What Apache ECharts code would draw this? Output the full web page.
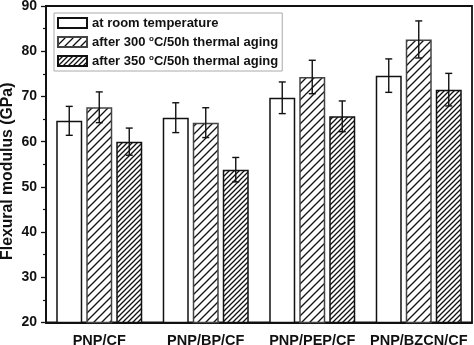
<!DOCTYPE html>
<html><head><meta charset="utf-8">
<script src="https://cdn.jsdelivr.net/npm/echarts@6/dist/echarts.min.js"></script>
<style>html,body{margin:0;padding:0;background:#fff}#c{width:474px;height:345px}</style>
</head><body><div id="c"></div>
<script>
const categories = ['PNP/CF', 'PNP/BP/CF', 'PNP/PEP/CF', 'PNP/BZCN/CF'];
const seriesNames = ['at room temperature', 'after 300 °C/50h thermal aging', 'after 350 °C/50h thermal aging'];
const roomTemp = [64.6, 65.3, 69.7, 74.6];
const roomTempErr = [3.2, 3.3, 3.5, 3.7];
const aged300 = [67.6, 64.2, 74.3, 82.6];
const aged300Err = [3.4, 3.3, 3.7, 4.1];
const aged350 = [60.0, 53.8, 65.6, 71.5];
const aged350Err = [3.0, 2.7, 3.4, 3.6];
const yTicks = [20, 30, 40, 50, 60, 70, 80, 90];

function hatch(s, lw) {
  const c = document.createElement('canvas');
  c.width = s; c.height = s;
  const ctx = c.getContext('2d');
  ctx.fillStyle = '#fff'; ctx.fillRect(0, 0, s, s);
  ctx.strokeStyle = '#111'; ctx.lineWidth = lw;
  ctx.beginPath();
  ctx.moveTo(0, s); ctx.lineTo(s, 0);
  ctx.moveTo(-2, 2); ctx.lineTo(2, -2);
  ctx.moveTo(s - 2, s + 2); ctx.lineTo(s + 2, s - 2);
  ctx.stroke();
  return c;
}

const values = [roomTemp, aged300, aged350];
const errs = [roomTempErr, aged300Err, aged350Err];
const fills = ['#fff', {image: hatch(8, 1.3), repeat: 'repeat'}, {image: hatch(5, 1.3), repeat: 'repeat'}];
const borders = ['#111', '#444', '#111'];
const BAR_W = 26, OFFSETS = [-30, 0, 30];

const series = [];
values.forEach((v, i) => {
  series.push({
    name: seriesNames[i], type: 'bar', data: v, barWidth: BAR_W, barGap: '15.4%',
    itemStyle: {color: fills[i], borderColor: borders[i], borderWidth: 1.5},
    emphasis: {disabled: true}
  });
});
values.forEach((v, i) => {
  series.push({
    type: 'custom', silent: true, z: 5,
    data: v.map((val, k) => [k, val, errs[i][k]]),
    encode: {x: 0, y: 1},
    renderItem: function (params, api) {
      const k = api.value(0), val = api.value(1), e = api.value(2);
      const top = api.coord([k, val + e]);
      const bot = api.coord([k, val - e]);
      const x = top[0] + OFFSETS[i];
      const cap = 3.5;
      const st = {stroke: '#111', lineWidth: 1.4};
      return {type: 'group', children: [
        {type: 'line', shape: {x1: x, y1: top[1], x2: x, y2: bot[1]}, style: st},
        {type: 'line', shape: {x1: x - cap, y1: top[1], x2: x + cap, y2: top[1]}, style: st},
        {type: 'line', shape: {x1: x - cap, y1: bot[1], x2: x + cap, y2: bot[1]}, style: st}
      ]};
    }
  });
});

const chart = echarts.init(document.getElementById('c'), null, {renderer: 'canvas'});
const FONT = 'Liberation Sans, Arial, sans-serif';
chart.setOption({
  animation: false,
  textStyle: {fontFamily: FONT},
  grid: {left: 46, right: 2, top: 6, bottom: 22.5, containLabel: false, outerBoundsMode: 'none',
    show: true, borderColor: '#111', borderWidth: 1.8, backgroundColor: 'transparent'},
  legend: {
    left: 54, top: 13, orient: 'vertical', itemWidth: 29, itemHeight: 10, itemGap: 5, icon: 'rect',
    padding: [3, 4, 3, 3], borderColor: '#aaa', borderWidth: 1,
    data: seriesNames,
    formatter: function (n) { return n.replace(' °C', ' {sup|o}C'); },
    textStyle: {fontSize: 13, fontWeight: 'bold', color: '#111', lineHeight: 14, fontFamily: FONT,
      rich: {sup: {fontSize: 8, fontWeight: 'bold', color: '#111', verticalAlign: 'top', lineHeight: 14, padding: [0, 0, 6, 0], fontFamily: FONT}}},
    selectedMode: false
  },
  xAxis: {
    type: 'category', data: categories,
    axisLine: {lineStyle: {color: '#111', width: 1.8}},
    axisTick: {alignWithLabel: true, length: 5, lineStyle: {color: '#111', width: 1.3}},
    axisLabel: {interval: 0, fontSize: 14.5, fontWeight: 'bold', color: '#111', margin: 11, fontFamily: FONT}
  },
  yAxis: {
    type: 'value', min: yTicks[0], max: yTicks[yTicks.length - 1], interval: 10,
    name: 'Flexural modulus (GPa)', nameLocation: 'middle', nameGap: 30, nameMoveOverlap: false,
    nameTextStyle: {fontSize: 15.8, fontWeight: 'bold', color: '#111', fontFamily: FONT, padding: [0, 14, 0, 0]},
    axisLine: {show: true, lineStyle: {color: '#111', width: 1.8}},
    axisTick: {show: true, length: 5, lineStyle: {color: '#111', width: 1.3}},
    minorTick: {show: true, splitNumber: 2, length: 3, lineStyle: {color: '#111', width: 1.2}},
    splitLine: {show: false},
    axisLabel: {fontSize: 14, fontWeight: 'bold', color: '#111', margin: 9, fontFamily: FONT}
  },
  series: series
});
</script></body></html>
